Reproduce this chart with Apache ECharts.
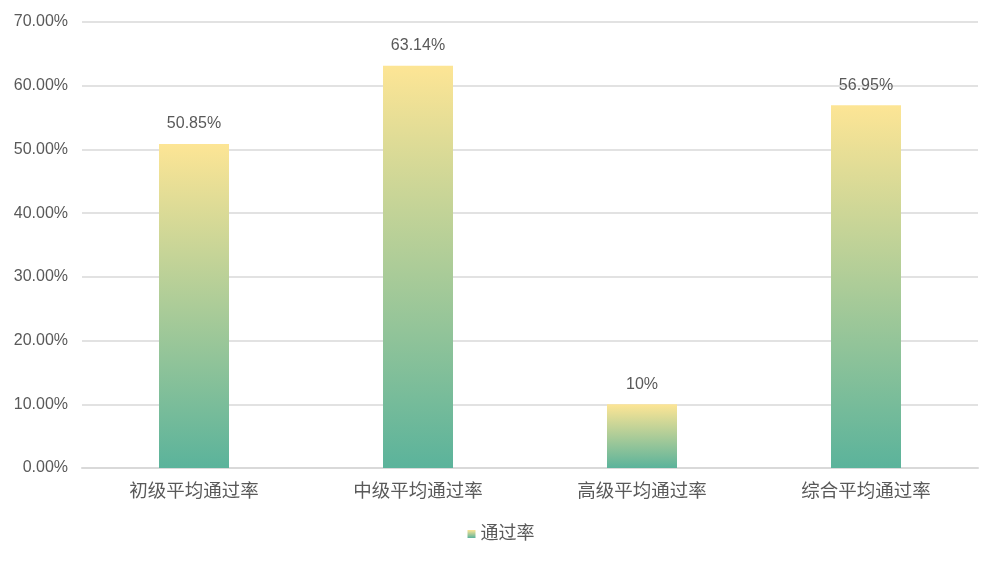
<!DOCTYPE html>
<html>
<head>
<meta charset="utf-8">
<script src="https://cdn.jsdelivr.net/npm/echarts@6/dist/echarts.min.js"></script>
<style>
html, body { margin: 0; padding: 0; background: #fff; }
#main { width: 1002px; height: 562px; }
</style>
</head>
<body>
<div id="main"></div>
<script>
var categories = ['初级平均通过率', '中级平均通过率', '高级平均通过率', '综合平均通过率'];
var passRate = [50.85, 63.14, 10, 56.95];
var seriesName = '通过率';

var chart = echarts.init(document.getElementById('main'), null, {renderer: 'canvas'});
var barGradient = new echarts.graphic.LinearGradient(0, 0, 0, 1, [
    {offset: 0, color: '#fde595'},
    {offset: 1, color: '#5bb39b'}
]);
var option = {
    animation: false,
    textStyle: {fontFamily: 'Liberation Sans, Noto Sans CJK SC, sans-serif'},
    grid: {left: 82, right: 24, top: 22, bottom: 94, containLabel: false},
    legend: {
        data: [seriesName],
        bottom: 14,
        left: 'center',
        icon: 'rect',
        itemWidth: 8,
        itemHeight: 8,
        itemGap: 4,
        textStyle: {color: '#595959', fontSize: 18}
    },
    xAxis: {
        type: 'category',
        data: categories,
        axisTick: {show: false},
        axisLine: {lineStyle: {color: '#d9d9d9', width: 2}},
        axisLabel: {color: '#595959', fontSize: 18.5, margin: 15}
    },
    yAxis: {
        type: 'value',
        min: 0,
        max: 70,
        interval: 10,
        axisLine: {show: false},
        axisTick: {show: false},
        splitLine: {lineStyle: {color: '#d9d9d9', width: 1.5}},
        axisLabel: {
            color: '#595959',
            fontSize: 16,
            margin: 14,
            formatter: function (v) { return v.toFixed(2) + '%'; }
        }
    },
    series: [{
        name: seriesName,
        type: 'bar',
        data: passRate,
        barWidth: 70,
        itemStyle: {color: barGradient},
        label: {
            show: true,
            position: 'top',
            distance: 12,
            color: '#595959',
            fontSize: 16,
            formatter: function (p) { return p.value + '%'; }
        }
    }]
};
chart.setOption(option);
</script>
</body>
</html>
